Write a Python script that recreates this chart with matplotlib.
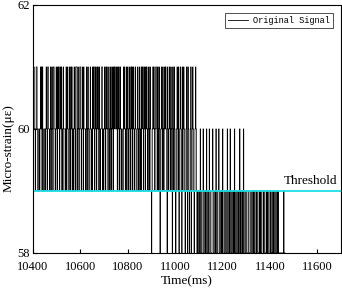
import numpy as np
import matplotlib.pyplot as plt

# --- Data (strain levels coded as offset from 58 με, one sample every 2 ms) ---
t_start = 10400
t_step = 2
base_level = 58

seg_a = ("43322123321122123231321122123213322123123213322123"
         "21323312323121322212312321132132312123213331232123"
         "32123213222123123211232121323312321323213212233121"
         "23213232113212312321323322321323123212211323212312"
         "32123213231232123211232123121323312321323212312321")
seg_b = ("01232321233213213201232132123232103212321321032132"
         "101232130123210312321012310321012301232101232101")
seg_c = ("00110210011200110120011021100012100110210011200110"
         "10211001100120011021001101020011001101201100102110"
         "01100")
seg_d = ("01100011001101001110110001010011101100010100111011000101001100101"
         "000000000001000")

threshold = 59
xticks = [10400, 10600, 10800, 11000, 11200, 11400, 11600]
yticks = [58, 60, 62]

codes = seg_a + seg_b + seg_c + seg_d
signal = np.array([int(c) for c in codes]) + base_level
time = t_start + t_step * np.arange(len(signal))

# --- Plot ---
plt.rcParams['font.family'] = ['Liberation Serif', 'DejaVu Serif']
fig = plt.figure(figsize=(3.42, 2.91), dpi=100)
ax = fig.add_axes([0.096, 0.131, 0.901, 0.852])

ax.plot(time, signal, color='black', lw=0.5, drawstyle='steps-post',
        snap=False, label='Original Signal')
ax.axhline(threshold, color='#19e0e6', lw=1.3)
ax.text(11683, threshold + 0.06, 'Threshold', ha='right', va='bottom', fontsize=9.5)

ax.set_xlim(10400, 11700)
ax.set_ylim(58, 62)
ax.set_xticks(xticks)
ax.set_yticks(yticks)
ax.tick_params(direction='in', labelsize=9, length=3)
ax.tick_params(axis='x', pad=5.5)
ax.tick_params(axis='y', pad=2)
ax.set_xlabel('Time(ms)', fontsize=9.5, labelpad=2)
ax.set_ylabel('Micro-strain(με)', fontsize=9.5)
ax.yaxis.set_label_coords(-0.06, 0.423)

leg = ax.legend(loc='upper right', prop={'family': 'Liberation Mono', 'size': 6.2},
                frameon=True, fancybox=False, edgecolor='black',
                handlelength=2.3, handletextpad=0.6, borderpad=0.35,
                borderaxespad=0.9)
leg.get_frame().set_linewidth(0.6)
leg.get_lines()[0].set_linewidth(0.6)

fig.savefig('out.png', dpi=100)
